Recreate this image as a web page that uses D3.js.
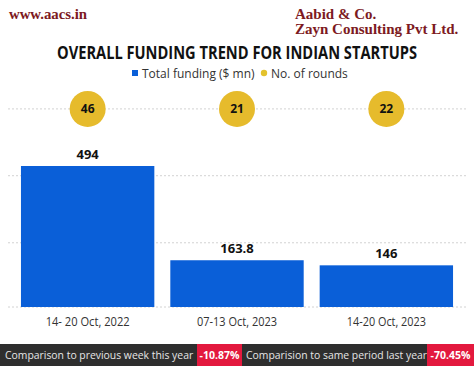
<!DOCTYPE html>
<html>
<head>
<meta charset="utf-8">
<script src="https://cdn.jsdelivr.net/npm/d3@7"></script>
<style>
	body { margin: 0; background: #fff; }
	svg { display: block; }
</style>
</head>
<body>
<svg width="474" height="372"></svg>
<script>
// chart data
var periods = ["14- 20 Oct, 2022", "07-13 Oct, 2023", "14-20 Oct, 2023"];
var funding = [494, 163.8, 146];
var rounds = [46, 21, 22];
var gridValues = [0, 225, 460, 694];

var compareLabels = ["Comparison to previous week this year", "Comparision to same period last year"];
var compareValues = ["-10.87%", "-70.45%"];

var W = 474, H = 372;
var svg = d3.select("svg");

// header text
var maroon = "#7d1a22";
svg.append("text")
	.attr("x", 9).attr("y", 19)
	.attr("fill", maroon)
	.style("font", "bold 14.8px 'Liberation Serif', serif")
	.text("www.aacs.in");
svg.append("text")
	.attr("x", 295).attr("y", 19)
	.attr("fill", maroon)
	.style("font", "bold 15px 'Liberation Serif', serif")
	.text("Aabid & Co.");
svg.append("text")
	.attr("x", 295).attr("y", 34)
	.attr("fill", maroon)
	.style("font", "bold 15px 'Liberation Serif', serif")
	.text("Zayn Consulting Pvt Ltd.");

// title
svg.append("text")
	.attr("x", W / 2).attr("y", 59)
	.attr("text-anchor", "middle")
	.attr("textLength", 360)
	.attr("lengthAdjust", "spacingAndGlyphs")
	.attr("fill", "#111")
	.style("font", "bold 17px 'Open Sans'")
	.text("OVERALL FUNDING TREND FOR INDIAN STARTUPS");

// legend
var legend = svg.append("g").style("font", "12px 'Open Sans'").attr("fill", "#333");
legend.append("rect").attr("x", 132).attr("y", 70).attr("width", 6).attr("height", 6).attr("fill", "#0a5fd8");
legend.append("text").attr("x", 142).attr("y", 77.5).text("Total funding ($ mn)");
legend.append("circle").attr("cx", 264).attr("cy", 73).attr("r", 3.2).attr("fill", "#e3c22d");
legend.append("text").attr("x", 271).attr("y", 77.5).text("No. of rounds");

// scales
var x = d3.scaleBand()
	.domain(periods)
	.range([12, 462])
	.paddingInner(0.107)
	.paddingOuter(0.06);

var y = d3.scaleLinear()
	.domain([0, 494])
	.range([307, 166]);

// dotted grid
svg.append("g")
	.selectAll("line")
	.data(gridValues)
	.enter().append("line")
	.attr("x1", 8).attr("x2", 466)
	.attr("y1", function (d) { return y(d); })
	.attr("y2", function (d) { return y(d); })
	.attr("stroke", "#d2d2d2")
	.attr("stroke-width", 1)
	.attr("stroke-dasharray", "2,2");

// bars
svg.append("g")
	.selectAll("rect")
	.data(funding)
	.enter().append("rect")
	.attr("x", function (d, i) { return x(periods[i]); })
	.attr("y", function (d) { return y(d); })
	.attr("width", x.bandwidth())
	.attr("height", function (d) { return y(0) - y(d); })
	.attr("fill", "#0a5fd8");

// bar values
svg.append("g")
	.selectAll("text")
	.data(funding)
	.enter().append("text")
	.attr("x", function (d, i) { return x(periods[i]) + x.bandwidth() / 2; })
	.attr("y", function (d) { return y(d) - 7; })
	.attr("text-anchor", "middle")
	.attr("fill", "#111")
	.style("font", "bold 13px 'Open Sans'")
	.text(function (d) { return d; });

// round bubbles
var bubbles = svg.append("g")
	.selectAll("g")
	.data(rounds)
	.enter().append("g")
	.attr("transform", function (d, i) {
		return "translate(" + (x(periods[i]) + x.bandwidth() / 2) + "," + y(694) + ")";
	});
bubbles.append("circle")
	.attr("r", 18)
	.attr("fill", "#e6bb2c");
bubbles.append("text")
	.attr("dy", "0.36em")
	.attr("text-anchor", "middle")
	.attr("fill", "#111")
	.style("font", "bold 12px 'Open Sans'")
	.text(function (d) { return d; });

// x axis labels
var labelWidths = [84, 80, 79];
var xAxis = svg.append("g")
	.attr("transform", "translate(0,307)")
	.call(d3.axisBottom(x).tickSize(0).tickPadding(10));
xAxis.select(".domain").remove();
xAxis.selectAll("text")
	.attr("fill", "#333")
	.attr("textLength", function (d, i) { return labelWidths[i]; })
	.attr("lengthAdjust", "spacingAndGlyphs")
	.style("font", "13px 'Open Sans'");

// comparison strip
var strip = svg.append("g").attr("transform", "translate(0,344)");
strip.append("rect").attr("x", 0).attr("y", 0).attr("width", W).attr("height", 22).attr("fill", "#2e2e2e");
var boxX = [197, 427];
var boxW = [45, 47];
var textX = [5, 246];
compareValues.forEach(function (v, i) {
	strip.append("rect").attr("x", boxX[i]).attr("y", 0).attr("width", boxW[i]).attr("height", 22).attr("fill", "#e3193e");
	strip.append("text")
		.attr("x", boxX[i] + boxW[i] / 2).attr("y", 15)
		.attr("text-anchor", "middle")
		.attr("fill", "#fff")
		.style("font", "bold 10.5px 'Open Sans'")
		.text(v);
	strip.append("text")
		.attr("x", textX[i]).attr("y", 15)
		.attr("fill", "#e6e6e6")
		.style("font", "10.4px 'Open Sans'")
		.text(compareLabels[i]);
});
</script>
</body>
</html>
